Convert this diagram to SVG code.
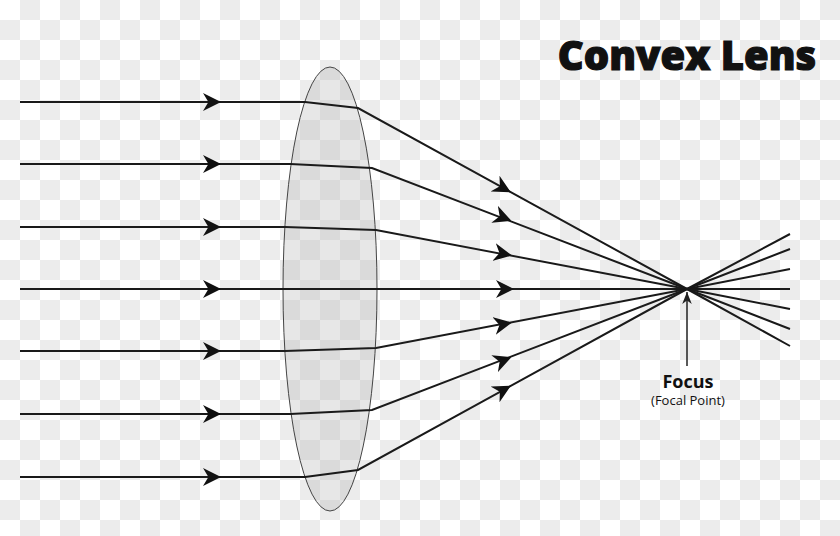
<svg xmlns="http://www.w3.org/2000/svg" width="840" height="536" viewBox="0 0 840 536">
<defs>
<pattern id="chk" width="40" height="40" patternUnits="userSpaceOnUse"><rect width="40" height="40" fill="#ffffff"/><rect x="20" width="20" height="20" fill="#ececec"/><rect y="20" width="20" height="20" fill="#ececec"/></pattern>
<marker id="ah" viewBox="0 0 10 10" refX="5" refY="5" markerWidth="18" markerHeight="18" markerUnits="userSpaceOnUse" orient="auto"><path d="M0,0 L10,5 L0,10 L3,5 Z" fill="#111"/></marker>
<marker id="fa" viewBox="0 0 10 10" refX="10" refY="5" markerWidth="12" markerHeight="12" markerUnits="userSpaceOnUse" orient="auto"><path d="M0,1 L10,5 L0,9 L3,5 Z" fill="#222"/></marker>
<style>.r{stroke:#1a1a1a;stroke-width:2;fill:none}.t{font-family:"Open Sans","DejaVu Sans",sans-serif;fill:#111;text-anchor:middle}</style>
</defs>
<rect width="840" height="536" fill="url(#chk)"/>
<g id="lens"><ellipse cx="330" cy="289" rx="47" ry="222" fill="#bbb" fill-opacity="0.35" stroke="#444" stroke-width="1"/></g>
<g id="connectors">
<path class="r" d="M20,102 L305,102 L358,108 L687,289 L790,346"/>
<path class="r" d="M20,164 L290,164 L372,168 L687,289 L790,329"/>
<path class="r" d="M20,227 L285,227 L376,230 L687,289 L790,309"/>
<path class="r" d="M20,289 L790,289"/>
<path class="r" d="M20,351 L285,351 L376,348 L687,289 L790,269"/>
<path class="r" d="M20,414 L290,414 L372,410 L687,289 L790,249"/>
<path class="r" d="M20,477 L305,477 L358,470 L687,289 L790,234"/>
<g stroke="none">
<path d="M200,102 L212,102" marker-end="url(#ah)"/>
<path d="M200,164 L212,164" marker-end="url(#ah)"/>
<path d="M200,227 L212,227" marker-end="url(#ah)"/>
<path d="M200,289 L212,289" marker-end="url(#ah)"/>
<path d="M200,351 L212,351" marker-end="url(#ah)"/>
<path d="M200,414 L212,414" marker-end="url(#ah)"/>
<path d="M200,477 L212,477" marker-end="url(#ah)"/>
<path d="M494,183 L503,188" marker-end="url(#ah)"/>
<path d="M494,214 L503,217.5" marker-end="url(#ah)"/>
<path d="M494,252 L503,253.7" marker-end="url(#ah)"/>
<path d="M494,289 L505,289" marker-end="url(#ah)"/>
<path d="M494,326 L503,324.3" marker-end="url(#ah)"/>
<path d="M494,364 L503,360.5" marker-end="url(#ah)"/>
<path d="M494,395 L503,390" marker-end="url(#ah)"/>
</g>
<path d="M687,366 L687,292" stroke="#222" stroke-width="1.5" marker-end="url(#fa)"/>
</g>
<g id="labels">
<text class="t" x="687" y="70" font-size="40" font-weight="900" stroke="#111" stroke-width="1.2">Convex Lens</text>
<text class="t" x="688" y="388" font-size="18" font-weight="bold">Focus</text>
<text class="t" x="688" y="405" font-size="13">(Focal Point)</text>
</g>
</svg>
